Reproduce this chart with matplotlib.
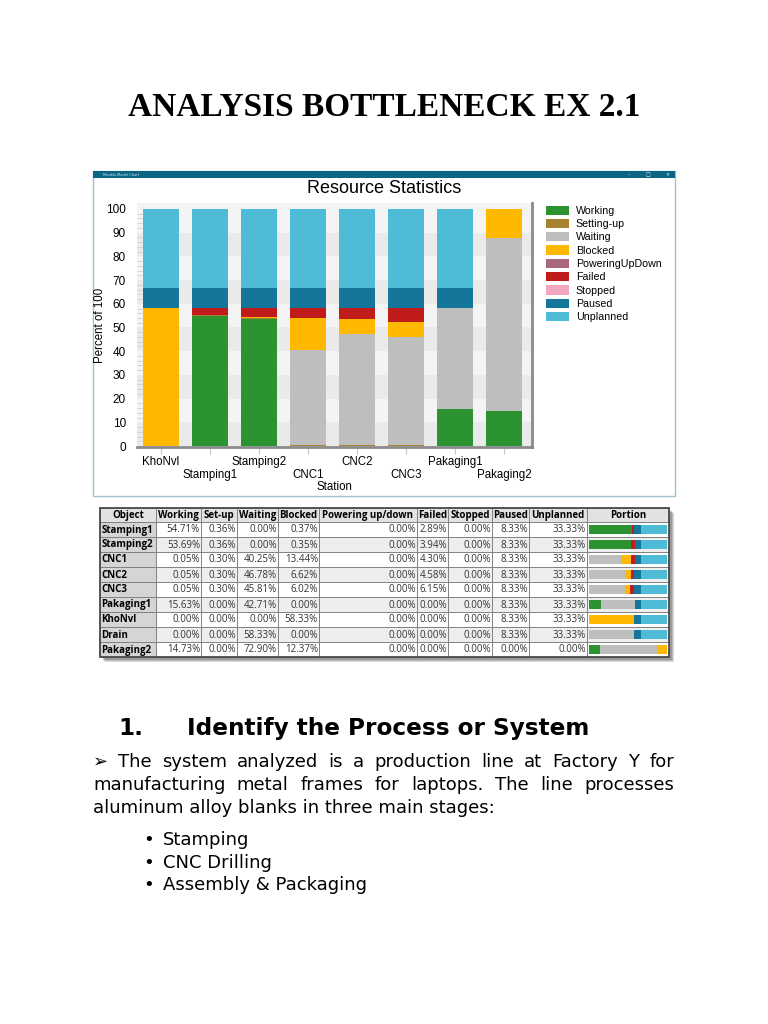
import matplotlib
matplotlib.use('Agg')
import matplotlib.pyplot as plt
from matplotlib.patches import Rectangle
import numpy as np

W, H, DPI = 768, 1024, 100

# ---------------- data ----------------
states = ['Working', 'Setting-up', 'Waiting', 'Blocked', 'PoweringUpDown',
          'Failed', 'Stopped', 'Paused', 'Unplanned']
state_colors = ['#2B9330', '#A6822F', '#BEBEBE', '#FEB800', '#A8677E',
                '#C01C1C', '#F2A7BF', '#13769A', '#4FBCD7']

stations = ['KhoNvl', 'Stamping1', 'Stamping2', 'CNC1', 'CNC2', 'CNC3',
            'Pakaging1', 'Pakaging2']

table_objects = ['Stamping1', 'Stamping2', 'CNC1', 'CNC2', 'CNC3',
                 'Pakaging1', 'KhoNvl', 'Drain', 'Pakaging2']
tbl_working = [54.71, 53.69, 0.05, 0.05, 0.05, 15.63, 0.00, 0.00, 14.73]
tbl_setup = [0.36, 0.36, 0.30, 0.30, 0.30, 0.00, 0.00, 0.00, 0.00]
tbl_waiting = [0.00, 0.00, 40.25, 46.78, 45.81, 42.71, 0.00, 58.33, 72.90]
tbl_blocked = [0.37, 0.35, 13.44, 6.62, 6.02, 0.00, 58.33, 0.00, 12.37]
tbl_powering = [0.00, 0.00, 0.00, 0.00, 0.00, 0.00, 0.00, 0.00, 0.00]
tbl_failed = [2.89, 3.94, 4.30, 4.58, 6.15, 0.00, 0.00, 0.00, 0.00]
tbl_stopped = [0.00, 0.00, 0.00, 0.00, 0.00, 0.00, 0.00, 0.00, 0.00]
tbl_paused = [8.33, 8.33, 8.33, 8.33, 8.33, 8.33, 8.33, 8.33, 0.00]
tbl_unplanned = [33.33, 33.33, 33.33, 33.33, 33.33, 33.33, 33.33, 33.33, 0.00]

table_headers = ['Object', 'Working', 'Set-up', 'Waiting', 'Blocked',
                 'Powering up/down', 'Failed', 'Stopped', 'Paused',
                 'Unplanned', 'Portion']
table_series = [tbl_working, tbl_setup, tbl_waiting, tbl_blocked, tbl_powering,
                tbl_failed, tbl_stopped, tbl_paused, tbl_unplanned]

yticks = [0, 10, 20, 30, 40, 50, 60, 70, 80, 90, 100]

page_title = 'ANALYSIS BOTTLENECK EX 2.1'
heading_num = '1.'
heading_text = 'Identify the Process or System'
para_lines = ['\u27a2 The system analyzed is a production line at Factory Y for',
              'manufacturing metal frames for laptops. The line processes',
              'aluminum alloy blanks in three main stages:']
bullets = ['Stamping', 'CNC Drilling', 'Assembly & Packaging']

# ---------------- figure ----------------
fig = plt.figure(figsize=(W / DPI, H / DPI), dpi=DPI)
fig.patch.set_facecolor('white')

ov = fig.add_axes([0, 0, 1, 1], zorder=0)
ov.set_xlim(0, W)
ov.set_ylim(H, 0)
ov.axis('off')

renderer = fig.canvas.get_renderer()

# page title
ov.text(384, 116, page_title, ha='center', va='baseline',
        family='Liberation Serif', weight='bold', fontsize=24.0, color='black')

# ---------------- chart window frame ----------------
ov.add_patch(Rectangle((93, 171), 582, 325, facecolor='white',
                       edgecolor='#9DC3D3', lw=1.0, zorder=1))
ov.add_patch(Rectangle((93, 171), 582, 7, facecolor='#0C6585',
                       edgecolor='none', zorder=2))
ov.text(103, 175, 'Models.Model Chart', fontsize=2.6, color='#cfe3ea',
        va='center', ha='left', zorder=3)
for xx, s in zip([629, 648, 667], ['-', '\u25a1', '\u00d7']):
    ov.text(xx, 174.5, s, fontsize=3.5, color='white', va='center',
            ha='center', zorder=3)
ov.text(384, 188.5, 'Resource Statistics', ha='center', va='center',
        family='Liberation Sans', fontsize=13, zorder=3)

# ---------------- chart ----------------
ax = fig.add_axes([137 / W, 1 - 447 / H, (532 - 137) / W, (447 - 203) / H],
                  zorder=2)
ax.set_facecolor('#F4F4F4')
for lo in range(0, 100, 20):
    ax.axhspan(lo, lo + 10, color='#EAEAEA', zorder=0, lw=0)

x = np.arange(len(stations))
idx = [table_objects.index(s) for s in stations]
bottom = np.zeros(len(stations))
for name, ser, col in zip(states, table_series, state_colors):
    vals = np.array([ser[i] for i in idx])
    ax.bar(x, vals, 0.73, bottom=bottom, color=col, label=name, zorder=3,
           linewidth=0)
    bottom += vals

ax.set_xlim(-0.49, 7.57)
ax.set_ylim(-0.4, 102.5)
ax.set_yticks(yticks)
ax.set_yticklabels([str(v) for v in yticks], family='Liberation Sans',
                   fontsize=8.5)
ax.set_yticks(np.arange(0, 101, 2), minor=True)
ax.tick_params(axis='y', which='major', length=0, pad=8)
ax.tick_params(axis='y', which='minor', length=4, direction='in',
               color='#d0d0d0', width=0.6)
ax.set_xticks(x)
ax.set_xticklabels(stations, family='Liberation Sans', fontsize=8.3)
ax.tick_params(axis='x', length=5, color='#c8c8c8')
for i, tk in enumerate(ax.xaxis.get_major_ticks()):
    tk.set_pad(1.5 if i % 2 == 0 else 10.5)
for sp in ['top', 'left']:
    ax.spines[sp].set_visible(False)
ax.spines['bottom'].set_color('#8a8a8a')
ax.spines['bottom'].set_linewidth(2.0)
ax.spines['right'].set_color('#8a8a8a')
ax.spines['right'].set_linewidth(2.0)
ax.set_xlabel('Station', family='Liberation Sans', fontsize=8.3, labelpad=0)
ax.set_ylabel('Percent of 100', family='Liberation Sans', fontsize=8.3,
              labelpad=0)

ax.legend(loc='upper left', bbox_to_anchor=(546 / W, 1 - 205.5 / H),
          bbox_transform=fig.transFigure, frameon=False,
          prop={'family': 'Liberation Sans', 'size': 7.7},
          handlelength=2.15, handleheight=0.93, labelspacing=0.29,
          handletextpad=0.65, borderaxespad=0, borderpad=0)

# ---------------- table ----------------
col_edges = [100, 156, 201, 237, 278, 319, 417, 448, 492, 529, 587, 669]
tbl_top, hdr_h, row_h = 508, 14, 15
n_rows = len(table_objects)
tbl_bot = tbl_top + hdr_h + n_rows * row_h
tfont = 'Open Sans'
tsize = 7.0

# shadow
for k, a in zip([5, 4, 3], [0.25, 0.3, 0.4]):
    ov.add_patch(Rectangle((col_edges[0] + k, tbl_top + k),
                           col_edges[-1] - col_edges[0], tbl_bot - tbl_top,
                           facecolor='#707070', alpha=a, edgecolor='none',
                           zorder=1))

# header
for c in range(len(table_headers)):
    x0, x1 = col_edges[c], col_edges[c + 1]
    ov.add_patch(Rectangle((x0, tbl_top), x1 - x0, hdr_h, facecolor='#E2E2E2',
                           edgecolor='#7a7a7a', lw=0.6, zorder=2))
    ov.text((x0 + x1) / 2, tbl_top + hdr_h / 2 + 0.5, table_headers[c],
            ha='center', va='center', family=tfont, weight='bold',
            fontsize=tsize, zorder=3)

for r, obj in enumerate(table_objects):
    y0 = tbl_top + hdr_h + r * row_h
    rowbg = 'white' if r % 2 == 0 else '#EEEEEE'
    for c in range(len(table_headers)):
        x0, x1 = col_edges[c], col_edges[c + 1]
        bg = '#D5D5D5' if c == 0 else rowbg
        ov.add_patch(Rectangle((x0, y0), x1 - x0, row_h, facecolor=bg,
                               edgecolor='#7a7a7a', lw=0.6, zorder=2))
        if c == 0:
            ov.text(x0 + 1.5, y0 + row_h / 2 + 0.5, obj, ha='left', va='center',
                    family=tfont, weight='bold', fontsize=tsize, zorder=3)
        elif c <= len(table_series):
            v = table_series[c - 1][r]
            ov.text(x1 - 1.0, y0 + row_h / 2 + 0.5, '%.2f%%' % v, ha='right',
                    va='center', family=tfont, fontsize=tsize, color='#333333',
                    zorder=3)

ov.add_patch(Rectangle((col_edges[0], tbl_top), col_edges[-1] - col_edges[0],
                       tbl_bot - tbl_top, facecolor='none', edgecolor='#4a4a4a',
                       lw=1.3, zorder=4))

# portion mini bars
pax = fig.add_axes([(col_edges[-2] + 2) / W, 1 - tbl_bot / H,
                    (col_edges[-1] - col_edges[-2] - 4) / W,
                    (n_rows * row_h) / H], zorder=3)
pax.set_xlim(0, 100)
pax.set_ylim(n_rows - 0.5, -0.5)
pax.axis('off')
rows = np.arange(n_rows)
left = np.zeros(n_rows)
for ser, col in zip(table_series, state_colors):
    vals = np.array(ser)
    pax.barh(rows, vals, 0.55, left=left, color=col, linewidth=0)
    left += vals

# ---------------- body text ----------------
ov.text(118, 735, heading_num, family='DejaVu Sans', weight='bold',
        fontsize=16.7, va='baseline', ha='left')
ov.text(187, 735, heading_text, family='DejaVu Sans', weight='bold',
        fontsize=16.7, va='baseline', ha='left')


def justify(words, x0, x1, y, **kw):
    ts = [ov.text(0, y, w, va='baseline', ha='left', **kw) for w in words]
    ws = [t.get_window_extent(renderer).width for t in ts]
    gap = (x1 - x0 - sum(ws)) / (len(words) - 1)
    xx = x0
    for t, w in zip(ts, ws):
        t.set_x(xx)
        xx += w + gap


body_kw = dict(family='DejaVu Sans', fontsize=13)
justify(para_lines[0].split(' '), 93, 674, 767, **body_kw)
justify(para_lines[1].split(' '), 93, 674, 790, **body_kw)
ov.text(93, 813, para_lines[2], va='baseline', ha='left', **body_kw)

for i, b in enumerate(bullets):
    yy = 845 + i * 22.5
    ov.text(143, yy, '\u2022', va='baseline', ha='left', **body_kw)
    ov.text(163, yy, b, va='baseline', ha='left', **body_kw)

fig.savefig('out.png', dpi=DPI, facecolor='white')
